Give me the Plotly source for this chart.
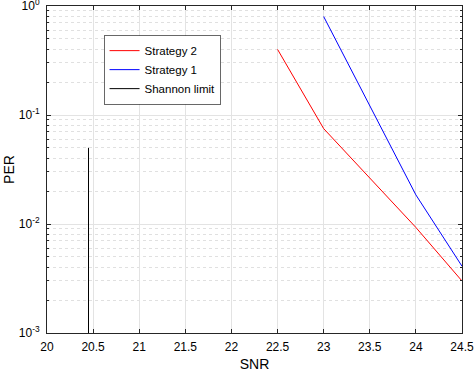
import plotly.graph_objects as go

# Data
s2_snr = [22.5, 23.0, 24.0, 24.5]
s2_per = [0.4, 0.075, 0.0093, 0.003]
s1_snr = [23.0, 24.0, 24.5]
s1_per = [0.8, 0.0185, 0.0041]
shannon_snr = [20.45, 20.45]
shannon_per = [0.001, 0.05]

x_ticks = [20, 20.5, 21, 21.5, 22, 22.5, 23, 23.5, 24, 24.5]
x_ticklabels = ["20", "20.5", "21", "21.5", "22", "22.5", "23", "23.5", "24", "24.5"]
y_ticks = [1e-3, 1e-2, 1e-1, 1e0]
y_ticklabels = ["10<sup>-3</sup>", "10<sup>-2</sup>", "10<sup>-1</sup>", "10<sup>0</sup>"]

minor_y = [k * 10.0 ** e for e in (-3, -2, -1) for k in range(2, 10)]

axcol = "#262626"
gridcol = "#e3e3e3"
font = "Liberation Sans, Arial, Helvetica, sans-serif"

fig = go.Figure()
fig.add_trace(go.Scatter(x=s2_snr, y=s2_per, mode="lines", name="Strategy 2",
                         line=dict(color="#ff0000", width=1)))
fig.add_trace(go.Scatter(x=s1_snr, y=s1_per, mode="lines", name="Strategy 1",
                         line=dict(color="#0000ff", width=1)))
fig.add_trace(go.Scatter(x=shannon_snr, y=shannon_per, mode="lines", name="Shannon limit",
                         line=dict(color="#000000", width=1)))

fig.update_layout(
    width=474, height=372,
    margin=dict(l=47, r=12, t=6, b=39, autoexpand=False),
    paper_bgcolor="white", plot_bgcolor="white",
    font=dict(family=font, size=12, color=axcol),
    showlegend=True,
    legend=dict(x=0.137, y=0.91, xanchor="left", yanchor="top",
                bgcolor="white", bordercolor=axcol, borderwidth=0.7,
                font=dict(size=11.5, color="#000000"),
                tracegroupgap=0, itemwidth=30),
)
fig.update_xaxes(
    range=[20, 24.5], tickmode="array", tickvals=x_ticks, ticktext=x_ticklabels,
    ticks="inside", ticklen=4, tickcolor=axcol, tickwidth=1,
    showline=True, linecolor=axcol, linewidth=1, mirror="ticks",
    showgrid=True, gridcolor=gridcol, gridwidth=1, zeroline=False,
    automargin=False, ticklabelstandoff=3, ticklabeloverflow="allow",
    title=dict(text="SNR", font=dict(size=14, color="#000000"), standoff=7),
    tickfont=dict(size=12, color="#000000"),
)
fig.update_yaxes(
    type="log", range=[-3, 0], tickmode="array", tickvals=y_ticks, ticktext=y_ticklabels,
    ticks="inside", ticklen=4, tickcolor=axcol, tickwidth=1,
    showline=True, linecolor=axcol, linewidth=1, mirror="ticks",
    showgrid=True, gridcolor=gridcol, gridwidth=1, zeroline=False,
    automargin=False, ticklabelstandoff=4, ticklabeloverflow="allow",
    minor=dict(tickmode="array", tickvals=minor_y, ticks="inside", ticklen=2,
               tickcolor=axcol, showgrid=True, gridcolor="#e0e0e0", griddash="dot", gridwidth=1),
    title=dict(text="PER", font=dict(size=14, color="#000000"), standoff=0),
    tickfont=dict(size=12, color="#000000"),
)

fig.write_html("out.html", config={"displayModeBar": False, "staticPlot": True},
               post_script="document.body.style.margin='0';document.body.style.overflow='hidden';")
